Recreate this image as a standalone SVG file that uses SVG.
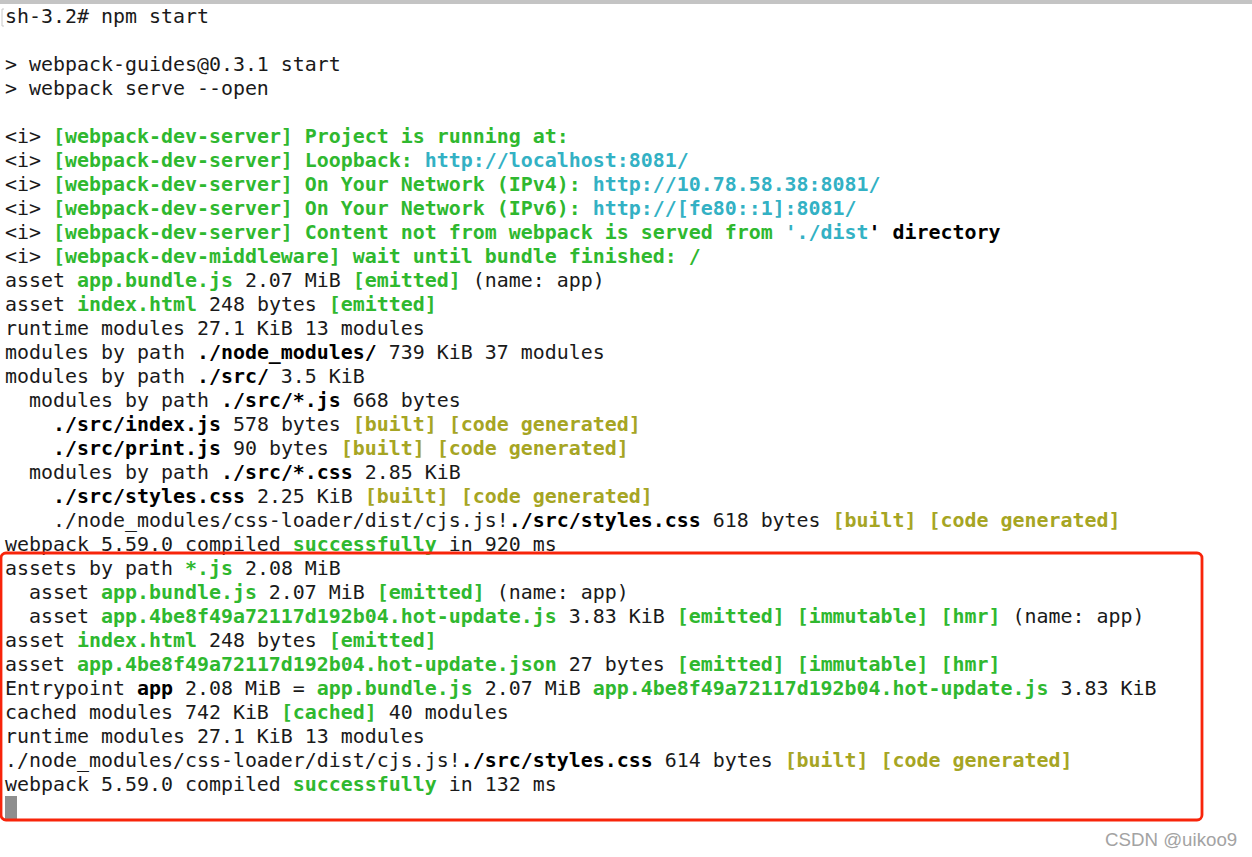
<svg xmlns="http://www.w3.org/2000/svg" width="1252" height="857" viewBox="0 0 1252 857">
<style>
text{font-family:"DejaVu Sans Mono","Liberation Mono",monospace;font-size:19.93px;fill:#1a1a1a;white-space:pre}
.g{fill:#2fb82f;font-weight:700}
.c{fill:#33b1c4;font-weight:700}
.y{fill:#a6a524;font-weight:700}
.b{fill:#000;font-weight:700}
.w{font-family:"Liberation Sans",Arial,sans-serif;font-size:18.7px;fill:#a3a3a3}
</style>
<rect width="1252" height="857" fill="#fff"/>
<rect x="0" y="0" width="1252" height="4" fill="#c4c4c4"/>
<path d="M4 9H2V26H4" fill="none" stroke="#c8c8c8" stroke-width="1"/>
<g id="terminal">
<text x="5" y="23" xml:space="preserve">sh-3.2# npm start</text>
<text x="5" y="71" xml:space="preserve">&gt; webpack-guides@0.3.1 start</text>
<text x="5" y="95" xml:space="preserve">&gt; webpack serve --open</text>
<text x="5" y="143" xml:space="preserve">&lt;i&gt; <tspan class="g">[webpack-dev-server] Project is running at:</tspan></text>
<text x="5" y="167" xml:space="preserve">&lt;i&gt; <tspan class="g">[webpack-dev-server] Loopback: </tspan><tspan class="c">http://localhost:8081/</tspan></text>
<text x="5" y="191" xml:space="preserve">&lt;i&gt; <tspan class="g">[webpack-dev-server] On Your Network (IPv4): </tspan><tspan class="c">http://10.78.58.38:8081/</tspan></text>
<text x="5" y="215" xml:space="preserve">&lt;i&gt; <tspan class="g">[webpack-dev-server] On Your Network (IPv6): </tspan><tspan class="c">http://[fe80::1]:8081/</tspan></text>
<text x="5" y="239" xml:space="preserve">&lt;i&gt; <tspan class="g">[webpack-dev-server] Content not from webpack is served from </tspan><tspan class="c">'./dist</tspan><tspan class="b">' directory</tspan></text>
<text x="5" y="263" xml:space="preserve">&lt;i&gt; <tspan class="g">[webpack-dev-middleware] wait until bundle finished: /</tspan></text>
<text x="5" y="287" xml:space="preserve">asset <tspan class="g">app.bundle.js</tspan> 2.07 MiB <tspan class="g">[emitted]</tspan> (name: app)</text>
<text x="5" y="311" xml:space="preserve">asset <tspan class="g">index.html</tspan> 248 bytes <tspan class="g">[emitted]</tspan></text>
<text x="5" y="335" xml:space="preserve">runtime modules 27.1 KiB 13 modules</text>
<text x="5" y="359" xml:space="preserve">modules by path <tspan class="b">./node_modules/</tspan> 739 KiB 37 modules</text>
<text x="5" y="383" xml:space="preserve">modules by path <tspan class="b">./src/</tspan> 3.5 KiB</text>
<text x="5" y="407" xml:space="preserve">  modules by path <tspan class="b">./src/*.js</tspan> 668 bytes</text>
<text x="5" y="431" xml:space="preserve">    <tspan class="b">./src/index.js</tspan> 578 bytes <tspan class="y">[built]</tspan> <tspan class="y">[code generated]</tspan></text>
<text x="5" y="455" xml:space="preserve">    <tspan class="b">./src/print.js</tspan> 90 bytes <tspan class="y">[built]</tspan> <tspan class="y">[code generated]</tspan></text>
<text x="5" y="479" xml:space="preserve">  modules by path <tspan class="b">./src/*.css</tspan> 2.85 KiB</text>
<text x="5" y="503" xml:space="preserve">    <tspan class="b">./src/styles.css</tspan> 2.25 KiB <tspan class="y">[built]</tspan> <tspan class="y">[code generated]</tspan></text>
<text x="5" y="527" xml:space="preserve">    ./node_modules/css-loader/dist/cjs.js!<tspan class="b">./src/styles.css</tspan> 618 bytes <tspan class="y">[built]</tspan> <tspan class="y">[code generated]</tspan></text>
<text x="5" y="551" xml:space="preserve">webpack 5.59.0 compiled <tspan class="g">successfully</tspan> in 920 ms</text>
<text x="5" y="575" xml:space="preserve">assets by path <tspan class="g">*.js</tspan> 2.08 MiB</text>
<text x="5" y="599" xml:space="preserve">  asset <tspan class="g">app.bundle.js</tspan> 2.07 MiB <tspan class="g">[emitted]</tspan> (name: app)</text>
<text x="5" y="623" xml:space="preserve">  asset <tspan class="g">app.4be8f49a72117d192b04.hot-update.js</tspan> 3.83 KiB <tspan class="g">[emitted]</tspan> <tspan class="g">[immutable]</tspan> <tspan class="g">[hmr]</tspan> (name: app)</text>
<text x="5" y="647" xml:space="preserve">asset <tspan class="g">index.html</tspan> 248 bytes <tspan class="g">[emitted]</tspan></text>
<text x="5" y="671" xml:space="preserve">asset <tspan class="g">app.4be8f49a72117d192b04.hot-update.json</tspan> 27 bytes <tspan class="g">[emitted]</tspan> <tspan class="g">[immutable]</tspan> <tspan class="g">[hmr]</tspan></text>
<text x="5" y="695" xml:space="preserve">Entrypoint <tspan class="b">app</tspan> 2.08 MiB = <tspan class="g">app.bundle.js</tspan> 2.07 MiB <tspan class="g">app.4be8f49a72117d192b04.hot-update.js</tspan> 3.83 KiB</text>
<text x="5" y="719" xml:space="preserve">cached modules 742 KiB <tspan class="g">[cached]</tspan> 40 modules</text>
<text x="5" y="743" xml:space="preserve">runtime modules 27.1 KiB 13 modules</text>
<text x="5" y="767" xml:space="preserve">./node_modules/css-loader/dist/cjs.js!<tspan class="b">./src/styles.css</tspan> 614 bytes <tspan class="y">[built]</tspan> <tspan class="y">[code generated]</tspan></text>
<text x="5" y="791" xml:space="preserve">webpack 5.59.0 compiled <tspan class="g">successfully</tspan> in 132 ms</text>
<rect x="5" y="796" width="12" height="24" fill="#8e8e8e"/>
</g>
<rect id="highlight" x="1" y="553" width="1201" height="267" rx="5" fill="none" stroke="#f8240a" stroke-width="2.8"/>
<text class="w" x="1105" y="846">CSDN @uikoo9</text>
</svg>
